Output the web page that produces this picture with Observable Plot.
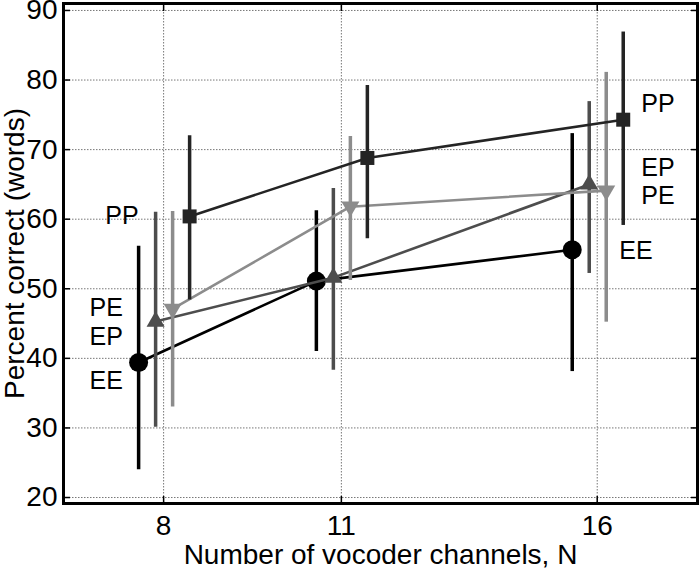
<!DOCTYPE html>
<html><head><meta charset="utf-8">
<script src="https://cdn.jsdelivr.net/npm/d3@7"></script>
<script src="https://cdn.jsdelivr.net/npm/@observablehq/plot@0.6"></script>
<style>
body{margin:0;background:#fff}
#chart{width:700px;height:568px}
#chart svg [aria-label="x-axis tick label"] text,
#chart svg [aria-label="y-axis tick label"] text{font-size:28px}
#chart svg [aria-label="x-axis label"] text,
#chart svg [aria-label="y-axis label"] text{font-size:28px}
</style>
</head><body><div id="chart"></div>
<script>
// ---- data ----
const channels = [8, 11, 16];
const yTicks = [20, 30, 40, 50, 60, 70, 80, 90];
const conditions = ["EE", "EP", "PE", "PP"];
const eeMean = [39.4, 51.1, 55.6], eeLo = [24.0, 41.0, 38.1], eeHi = [56.1, 61.2, 72.3];
const epMean = [45.3, 51.6, 65.0], epLo = [30.1, 38.3, 52.2], epHi = [61.0, 64.4, 76.9];
const peMean = [47.1, 61.8, 64.1], peLo = [33.0, 51.2, 45.2], peHi = [61.1, 71.9, 81.1];
const ppMean = [60.4, 68.8, 74.3], ppLo = [48.4, 57.2, 59.1], ppHi = [72.0, 79.2, 86.9];
// label annotation heights (percent correct units)
const leftLabelY = {PP: 60.4, PE: 47.2, EP: 43.0, EE: 36.8};
const rightLabelY = {PP: 76.5, EP: 67.4, PE: 63.4, EE: 55.5};

const series = {EE: [eeMean, eeLo, eeHi], EP: [epMean, epLo, epHi], PE: [peMean, peLo, peHi], PP: [ppMean, ppLo, ppHi]};
const rows = conditions.flatMap(c => channels.map((n, i) => ({cond: c, n, mean: series[c][0][i], lo: series[c][1][i], hi: series[c][2][i]})));

// ---- styles ----
const sqrt3 = Math.sqrt(3);
const triangleDown = {draw(ctx, size) { const y = Math.sqrt(size / (sqrt3 * 3)); ctx.moveTo(0, 2 * y); ctx.lineTo(-sqrt3 * y, -y); ctx.lineTo(sqrt3 * y, -y); ctx.closePath(); }};
const style = {
  EE: {color: "#000000", symbol: "circle", r: 9.5, dx: -25},
  EP: {color: "#4d4d4d", symbol: "triangle", r: 6.7, dx: -8},
  PE: {color: "#8c8c8c", symbol: triangleDown, r: 6.7, dx: 9},
  PP: {color: "#242424", symbol: "square", r: 7.9, dx: 26}
};

const font = "'Liberation Sans', Arial, Helvetica, sans-serif";
const marks = [
  Plot.gridX(channels, {stroke: "#777", strokeOpacity: 1, strokeWidth: 1, strokeDasharray: "1.5,1.5"}),
  Plot.gridY(yTicks, {stroke: "#777", strokeOpacity: 1, strokeWidth: 1, strokeDasharray: "1.5,1.5"}),
];
for (const c of conditions) {
  const d = rows.filter(r => r.cond === c);
  const s = style[c];
  marks.push(
    Plot.line(d, {x: "n", y: "mean", dx: s.dx, stroke: s.color, strokeWidth: 2.6}),
    Plot.ruleX(d, {x: "n", y1: "lo", y2: "hi", dx: s.dx, stroke: s.color, strokeWidth: 3.5}),
    Plot.dot(d, {x: "n", y: "mean", dx: s.dx, symbol: s.symbol, r: s.r, fill: s.color, stroke: "none"})
  );
}
// condition labels
marks.push(
  Plot.text(["PP"], {x: () => channels[0], y: d => leftLabelY[d], text: d => d, dx: -25, textAnchor: "end", fontSize: 25, fill: "black"}),
  Plot.text(["PE", "EP", "EE"], {x: () => channels[0], y: d => leftLabelY[d], text: d => d, dx: -74, textAnchor: "start", fontSize: 25, fill: "black"}),
  Plot.text(["PP", "EP", "PE"], {x: () => channels[2], y: d => rightLabelY[d], text: d => d, dx: 44, textAnchor: "start", fontSize: 25, fill: "black"}),
  Plot.text(["EE"], {x: () => channels[2], y: d => rightLabelY[d], text: d => d, dx: 22, textAnchor: "start", fontSize: 25, fill: "black"})
);
// axes (inward ticks, MATLAB box style)
marks.push(
  Plot.axisX({anchor: "bottom", ticks: channels, tickSize: -7, tickPadding: 19, fontSize: 28, stroke: "black", strokeWidth: 1.5,
    label: "Number of vocoder channels, N", labelAnchor: "center", labelOffset: 60, labelArrow: "none"}),
  Plot.axisX({anchor: "top", ticks: channels, tickSize: -7, tickFormat: () => "", stroke: "black", strokeWidth: 1.5, label: null}),
  Plot.axisY({anchor: "left", ticks: yTicks, tickSize: -7, tickPadding: 13, fontSize: 28, stroke: "black", strokeWidth: 1.5,
    label: "Percent correct (words)", labelAnchor: "center", labelOffset: 59, labelArrow: "none"}),
  Plot.axisY({anchor: "right", ticks: yTicks, tickSize: -7, tickFormat: () => "", stroke: "black", strokeWidth: 1.5, label: null}),
  Plot.frame({stroke: "black", strokeWidth: 3})
);

const chart = Plot.plot({
  width: 700, height: 568,
  marginLeft: 63, marginRight: 3, marginTop: 3, marginBottom: 65,
  style: {fontFamily: font, fontSize: "28px", color: "black", background: "white"},
  x: {type: "pow", exponent: 0.58, domain: [6.49, 18.17]},
  y: {domain: [19.14, 91.0]},
  marks
});
document.getElementById("chart").appendChild(chart);
</script></body></html>
